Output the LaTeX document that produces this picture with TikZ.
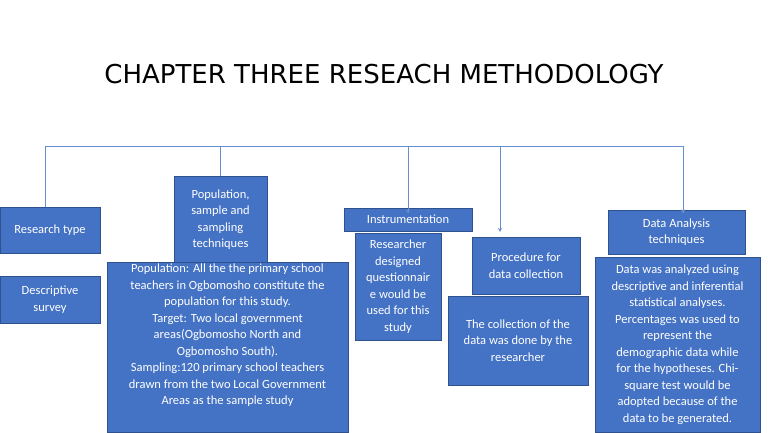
\documentclass[tikz,border=0pt]{standalone}
\usepackage{fontspec}
\setmainfont{Carlito}
\newfontfamily\titlefont{DejaVu Sans}
\usetikzlibrary{arrows.meta}
\definecolor{boxblue}{HTML}{4472C4}
\definecolor{boxline}{HTML}{2F528F}
\tikzset{
  box/.style={draw=boxline, fill=boxblue, text=white, align=center,
    inner sep=1pt, font=\fontsize{12.5}{16.5}\selectfont, line width=1pt},
  link/.style={draw=boxblue!80, line width=0.9pt},
  linkarrow/.style={link, -{Stealth[length=4pt,width=4pt]}}
}
\begin{document}
\begin{tikzpicture}[x=1pt,y=-1pt]
  \useasboundingbox (0,0) rectangle (768,433);
  \node (title) at (384,74) {\titlefont\fontsize{26}{30}\selectfont CHAPTER THREE RESEACH METHODOLOGY};
  % headers
  \node[box, minimum width=100, minimum height=46] (rtype) at (50,230) {Research type};
  \node[box, minimum width=100, minimum height=47] (desc) at (50,299.5) {Descriptive\\survey};
  \node[box, minimum width=93, minimum height=87] (pop) at (220.5,219.5) {Population,\\sample and\\sampling\\techniques};
  \node[box, minimum width=241, minimum height=169] (popbody) at (227.5,347.5)
    {Population: All the the primary school\\teachers in Ogbomosho constitute the\\population for this study.\\Target: Two local government\\areas(Ogbomosho North and\\Ogbomosho South).\\Sampling:120 primary school teachers\\drawn from the two Local Government\\Areas as the sample study\\[10pt]};
  \node[box, minimum width=128, minimum height=23] (instr) at (408,219.5) {Instrumentation};
  \node[box, minimum width=86, minimum height=107] (instrbody) at (398,286.5)
    {Researcher\\designed\\questionnair\\e would be\\used for this\\study};
  \node[box, minimum width=108, minimum height=57] (proc) at (526,265.5) {Procedure for\\data collection};
  \node[box, minimum width=140, minimum height=89] (procbody) at (518,340.5)
    {The collection of the\\data was done by the\\researcher};
  \node[box, minimum width=137, minimum height=44] (anal) at (676.5,232) {Data Analysis\\techniques};
  \node[box, minimum width=165, minimum height=175] (analbody) at (677.5,344.5)
    {Data was analyzed using\\descriptive and inferential\\statistical analyses.\\Percentages was used to\\represent the\\demographic data while\\for the hypotheses. Chi-\\square test would be\\adopted because of the\\data to be generated.};
  % connectors
  \coordinate (top1) at (45,146);
  \coordinate (top5) at (683,146);
  \draw[link] (top1) -- (top5);
  \draw[link] (top1) -- (rtype.north -| top1);
  \draw[link] (pop.north |- top1) -- (pop.north);
  \draw[linkarrow] (408,146) -- ([yshift=-6]instr.north);
  \draw[linkarrow] (500,146) -- (500,232);
  \draw[linkarrow] (top5) -- ([yshift=-4]anal.north -| top5);
\end{tikzpicture}
\end{document}
